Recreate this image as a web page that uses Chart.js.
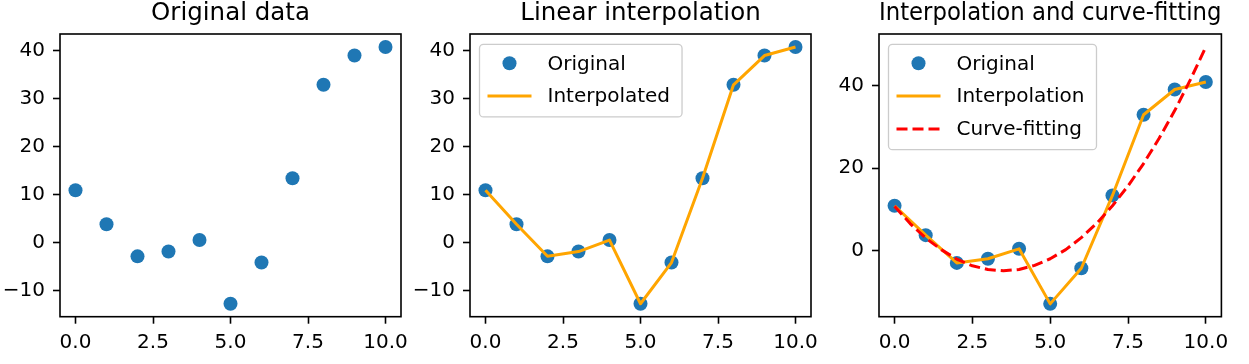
<!DOCTYPE html>
<html>
<head>
<meta charset="utf-8">
<script src="https://cdn.jsdelivr.net/npm/chart.js@4.4.1/dist/chart.umd.min.js"></script>
<style>
html, body { margin: 0; padding: 0; background: #ffffff; width: 1249px; height: 364px; overflow: hidden; position: relative; }
canvas { position: absolute; top: 0; }
</style>
</head>
<body>
<canvas id="c1"></canvas>
<canvas id="c2"></canvas>
<canvas id="c3"></canvas>
<script>
// ---------------- data ----------------
const xValues = [0, 1, 2, 3, 4, 5, 6, 7, 8, 9, 10];
const originalY = [10.9, 3.8, -2.9, -1.9, 0.5, -12.8, -4.2, 13.4, 32.9, 39.0, 40.8];
const fitX = [0, 0.5, 1, 1.5, 2, 2.5, 3, 3.5, 4, 4.5, 5, 5.5, 6, 6.5, 7, 7.5, 8, 8.5, 9, 9.5, 10];
const fitY = [10.8, 6.6, 3.1, 0.3, -2.0, -3.6, -4.5, -4.8, -4.5, -3.5, -1.9, 0.3, 3.2, 6.7, 10.9, 15.7, 21.1, 27.2, 33.9, 41.3, 49.3];
const xTickValues = [0, 2.5, 5, 7.5, 10];
const yTickValuesA = [-10, 0, 10, 20, 30, 40];
const yTickValuesB = [0, 20, 40];
const titles = ['Original data', 'Linear interpolation', 'Interpolation and curve-fitting'];
const labelsPanel2 = ['Original', 'Interpolated'];
const labelsPanel3 = ['Original', 'Interpolation', 'Curve-fitting'];

// ---------------- style / layout ----------------
const FONT = '"DejaVu Sans", "Liberation Sans", sans-serif';
const BLUE = '#1f77b4', ORANGE = '#ffa500', RED = '#ff0000';
const CANVAS_H = 364;
const PLOT_TOP = 34, PLOT_BOTTOM = 316.7;
const LEFT_ROOM = 60, RIGHT_ROOM = 34;
const panels = [
  { id: 'c1', left: 60,    right: 401 },
  { id: 'c2', left: 470,   right: 811 },
  { id: 'c3', left: 879.3, right: 1221.7 }
];

const toPts = (xs, ys) => xs.map((x, i) => ({ x: x, y: ys[i] }));

const framePlugin = {
  id: 'frame',
  afterDatasetsDraw(chart) {
    const { ctx, chartArea: a } = chart;
    ctx.save();
    ctx.strokeStyle = '#000';
    ctx.lineWidth = 1.6;
    ctx.strokeRect(a.left, a.top, a.right - a.left, a.bottom - a.top);
    ctx.restore();
  }
};

const boxLegend = {
  id: 'boxLegend',
  afterDraw(chart, args, opts) {
    if (!opts || !opts.display) return;
    const ctx = chart.ctx, a = chart.chartArea;
    const items = chart.data.datasets.map(d => ({
      label: d.label,
      kind: d.showLine ? 'line' : 'point',
      color: d.showLine ? d.borderColor : d.pointBackgroundColor,
      dash: d.borderDash || []
    }));
    ctx.save();
    ctx.font = '20px ' + FONT;
    const x0 = a.left + 9.5, y0 = a.top + 10.3;
    const rowH = 32.8;
    const textX = x0 + 68;
    let maxW = 0;
    items.forEach(it => { maxW = Math.max(maxW, ctx.measureText(it.label).width); });
    const w = textX + maxW + 12 - x0;
    const h = 7 + rowH * items.length;
    const r = 4;
    ctx.beginPath();
    ctx.moveTo(x0 + r, y0);
    ctx.lineTo(x0 + w - r, y0);
    ctx.arcTo(x0 + w, y0, x0 + w, y0 + r, r);
    ctx.lineTo(x0 + w, y0 + h - r);
    ctx.arcTo(x0 + w, y0 + h, x0 + w - r, y0 + h, r);
    ctx.lineTo(x0 + r, y0 + h);
    ctx.arcTo(x0, y0 + h, x0, y0 + h - r, r);
    ctx.lineTo(x0, y0 + r);
    ctx.arcTo(x0, y0, x0 + r, y0, r);
    ctx.closePath();
    ctx.fillStyle = 'rgba(255,255,255,0.8)';
    ctx.fill();
    ctx.strokeStyle = '#cccccc';
    ctx.lineWidth = 1.3;
    ctx.stroke();
    items.forEach((it, i) => {
      const cy = y0 + 19 + i * rowH;
      if (it.kind === 'point') {
        ctx.beginPath();
        ctx.arc(x0 + 30, cy, 7, 0, Math.PI * 2);
        ctx.fillStyle = it.color;
        ctx.fill();
      } else {
        ctx.beginPath();
        ctx.setLineDash(it.dash);
        ctx.moveTo(x0 + 8, cy);
        ctx.lineTo(x0 + 52, cy);
        ctx.strokeStyle = it.color;
        ctx.lineWidth = 3;
        ctx.lineCap = 'butt';
        ctx.stroke();
        ctx.setLineDash([]);
      }
      ctx.fillStyle = '#000';
      ctx.textAlign = 'left';
      ctx.textBaseline = 'middle';
      ctx.fillText(it.label, textX, cy + 1);
    });
    ctx.restore();
  }
};

function scatterSet(label, order) {
  return {
    label: label, type: 'scatter', order: order,
    data: toPts(xValues, originalY),
    showLine: false,
    pointRadius: 7, pointHoverRadius: 7, pointBorderWidth: 0,
    pointBackgroundColor: BLUE, backgroundColor: BLUE, borderColor: BLUE
  };
}
function lineSet(label, xs, ys, color, dash, order) {
  return {
    label: label, type: 'scatter', order: order,
    data: toPts(xs, ys),
    showLine: true, fill: false, tension: 0,
    borderColor: color, backgroundColor: color, borderWidth: 3,
    borderDash: dash, borderJoinStyle: 'round', borderCapStyle: 'butt',
    pointRadius: 0, pointHoverRadius: 0
  };
}

function makeChart(panel, title, datasets, yMin, yMax, yTicks, showLegend) {
  const canvas = document.getElementById(panel.id);
  const plotW = panel.right - panel.left;
  canvas.width = Math.round(LEFT_ROOM + plotW + RIGHT_ROOM);
  canvas.height = CANVAS_H;
  canvas.style.left = (panel.left - LEFT_ROOM) + 'px';
  canvas.style.width = canvas.width + 'px';
  canvas.style.height = CANVAS_H + 'px';
  const rightPad = canvas.width - LEFT_ROOM - plotW;
  const tickFont = { family: FONT, size: 20, lineHeight: 1.2 };
  return new Chart(canvas, {
    type: 'scatter',
    data: { datasets: datasets },
    options: {
      responsive: false, animation: false, devicePixelRatio: 1, events: [],
      layout: { padding: { left: 0, right: rightPad, top: 0, bottom: 0 } },
      plugins: {
        legend: { display: false },
        tooltip: { enabled: false },
        title: {
          display: true, text: title, fullSize: false, color: '#000',
          font: { family: FONT, size: 24.5, weight: 'normal', lineHeight: 1 },
          padding: { top: 1.25, bottom: PLOT_TOP - 1.25 - 24.5 }
        },
        boxLegend: { display: showLegend }
      },
      scales: {
        x: {
          type: 'linear', min: -0.5, max: 10.5,
          afterFit: s => { s.height = CANVAS_H - PLOT_BOTTOM; },
          afterBuildTicks: s => { s.ticks = xTickValues.map(v => ({ value: v })); },
          ticks: { color: '#000', font: tickFont, padding: 7, maxRotation: 0, autoSkip: false,
                   callback: v => Number(v).toFixed(1) },
          grid: { display: true, drawOnChartArea: false, drawTicks: true, tickLength: 7,
                  tickColor: '#000', tickWidth: 1.6, color: '#000' },
          border: { display: false }
        },
        y: {
          type: 'linear', min: yMin, max: yMax,
          afterFit: s => { s.width = LEFT_ROOM; },
          afterBuildTicks: s => { s.ticks = yTicks.map(v => ({ value: v })); },
          ticks: { color: '#000', font: tickFont, padding: 8, autoSkip: false,
                   callback: v => String(v).replace('-', '\u2212') },
          grid: { display: true, drawOnChartArea: false, drawTicks: true, tickLength: 7,
                  tickColor: '#000', tickWidth: 1.6, color: '#000' },
          border: { display: false }
        }
      }
    },
    plugins: [framePlugin, boxLegend]
  });
}

const yMinA = -15.5, yMaxA = 43.5;
const yMinB = -15.9, yMaxB = 52.4;

makeChart(panels[0], titles[0], [scatterSet('Original', 1)], yMinA, yMaxA, yTickValuesA, false);
makeChart(panels[1], titles[1], [
  scatterSet(labelsPanel2[0], 3),
  lineSet(labelsPanel2[1], xValues, originalY, ORANGE, [], 2)
], yMinA, yMaxA, yTickValuesA, true);
makeChart(panels[2], titles[2], [
  scatterSet(labelsPanel3[0], 3),
  lineSet(labelsPanel3[1], xValues, originalY, ORANGE, [], 2),
  lineSet(labelsPanel3[2], fitX, fitY, RED, [11, 5], 1)
], yMinB, yMaxB, yTickValuesB, true);
</script>
</body>
</html>
